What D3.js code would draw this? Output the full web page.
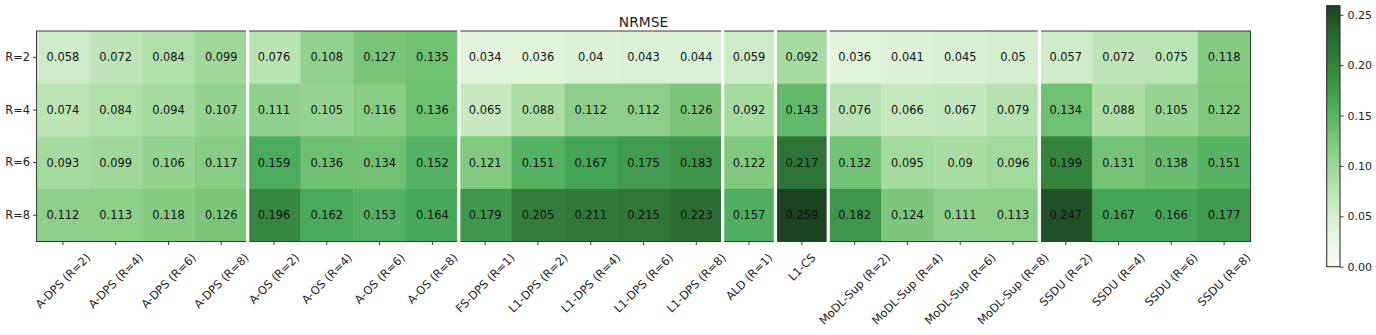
<!DOCTYPE html>
<html lang="en">
    <head>
        <meta charset="utf-8">
        <title>NRMSE heatmap</title>
        <script type="text/javascript" src="https://d3js.org/d3.v7.min.js"></script>
        <style type="text/css">
            body { margin: 0; background: #fff; }
            text { font-family: "DejaVu Sans", sans-serif; }
        </style>
    </head>
    <body>
        <script type="text/javascript">

            const methods = ["A-DPS (R=2)", "A-DPS (R=4)", "A-DPS (R=6)", "A-DPS (R=8)",
                             "A-OS (R=2)", "A-OS (R=4)", "A-OS (R=6)", "A-OS (R=8)",
                             "FS-DPS (R=1)", "L1-DPS (R=2)", "L1-DPS (R=4)", "L1-DPS (R=6)", "L1-DPS (R=8)",
                             "ALD (R=1)", "L1-CS",
                             "MoDL-Sup (R=2)", "MoDL-Sup (R=4)", "MoDL-Sup (R=6)", "MoDL-Sup (R=8)",
                             "SSDU (R=2)", "SSDU (R=4)", "SSDU (R=6)", "SSDU (R=8)"];
            const rates = ["R=2", "R=4", "R=6", "R=8"];
            const groupSizes = [4, 4, 5, 1, 1, 4, 4];

            const r2 = [0.058, 0.072, 0.084, 0.099, 0.076, 0.108, 0.127, 0.135, 0.034, 0.036, 0.04, 0.043, 0.044,
                        0.059, 0.092, 0.036, 0.041, 0.045, 0.05, 0.057, 0.072, 0.075, 0.118];
            const r4 = [0.074, 0.084, 0.094, 0.107, 0.111, 0.105, 0.116, 0.136, 0.065, 0.088, 0.112, 0.112, 0.126,
                        0.092, 0.143, 0.076, 0.066, 0.067, 0.079, 0.134, 0.088, 0.105, 0.122];
            const r6 = [0.093, 0.099, 0.106, 0.117, 0.159, 0.136, 0.134, 0.152, 0.121, 0.151, 0.167, 0.175, 0.183,
                        0.122, 0.217, 0.132, 0.095, 0.09, 0.096, 0.199, 0.131, 0.138, 0.151];
            const r8 = [0.112, 0.113, 0.118, 0.126, 0.196, 0.162, 0.153, 0.164, 0.179, 0.205, 0.211, 0.215, 0.223,
                        0.157, 0.259, 0.182, 0.124, 0.111, 0.113, 0.247, 0.167, 0.166, 0.177];
            const colorTicks = [0, 0.05, 0.10, 0.15, 0.20, 0.25];

            // greens colour ramp as it appears in the picture
            const greens = ["#f7fcf5", "#e5f5e0", "#c7e9c0", "#a1d99b", "#76c477", "#48aa5b", "#37883f", "#2a6a32", "#1c4320"];

            const width = 1376;
            const height = 335;
            const plotLeft = 36.5, plotRight = 1250.5, plotTop = 31, plotBottom = 241.5;
            const tickFont = "11.4px";

            const rows = [r2, r4, r6, r8];
            const cells = [];
            rows.forEach((vals, i) => vals.forEach((v, j) => cells.push({rate: rates[i], method: methods[j], value: v})));

            const xScale = d3.scaleBand().domain(methods).range([plotLeft, plotRight]);
            const yScale = d3.scaleBand().domain(rates).range([plotTop, plotBottom]);
            const vmax = d3.max(cells, d => d.value);
            const color = d3.scaleLinear()
                            .domain(greens.map((c, i) => vmax * i / (greens.length - 1)))
                            .range(greens)
                            .clamp(true);

            const svg = d3.select("body")
                          .append("svg")
                          .attr("width", width)
                          .attr("height", height);

            // cells
            svg.selectAll("rect.cell")
               .data(cells)
               .enter()
               .append("rect")
               .attr("class", "cell")
               .attr("x", d => xScale(d.method))
               .attr("y", d => yScale(d.rate))
               .attr("width", xScale.bandwidth() + 0.5)
               .attr("height", yScale.bandwidth() + 0.5)
               .attr("fill", d => color(d.value));

            svg.selectAll("text.val")
               .data(cells)
               .enter()
               .append("text")
               .attr("class", "val")
               .attr("x", d => xScale(d.method) + xScale.bandwidth() / 2)
               .attr("y", d => yScale(d.rate) + yScale.bandwidth() / 2)
               .attr("text-anchor", "middle")
               .attr("dominant-baseline", "central")
               .attr("font-size", "11.4px")
               .attr("fill", "#111")
               .text(d => d.value);

            // frame
            svg.append("rect")
               .attr("x", plotLeft).attr("y", plotTop)
               .attr("width", plotRight - plotLeft).attr("height", plotBottom - plotTop)
               .attr("fill", "none").attr("stroke", "#3a3a3a").attr("stroke-width", 1);

            // white separators between method groups
            const seps = d3.cumsum(groupSizes).slice(0, -1);
            svg.selectAll("line.sep")
               .data(seps)
               .enter()
               .append("line")
               .attr("x1", d => xScale(methods[d]))
               .attr("x2", d => xScale(methods[d]))
               .attr("y1", plotTop - 1)
               .attr("y2", plotBottom + 1)
               .attr("stroke", "#fff")
               .attr("stroke-width", 3.2);

            // axes
            const leftAxis = d3.axisLeft(yScale).tickSize(3.5).tickPadding(3);
            const gy = svg.append("g").attr("transform", "translate(" + plotLeft + ",0)").call(leftAxis);
            gy.select(".domain").remove();
            gy.selectAll("line").attr("stroke", "#333");
            gy.selectAll("text").attr("font-size", tickFont).attr("fill", "#222").attr("font-family", "DejaVu Sans");

            const bottomAxis = d3.axisBottom(xScale).tickSize(3.5).tickPadding(3);
            const gx = svg.append("g").attr("transform", "translate(0," + plotBottom + ")").call(bottomAxis);
            gx.select(".domain").remove();
            gx.selectAll("line").attr("stroke", "#333");
            gx.selectAll("text")
              .attr("font-size", tickFont)
              .attr("fill", "#222")
              .attr("font-family", "DejaVu Sans")
              .attr("dy", null)
              .attr("y", 0)
              .attr("text-anchor", "middle")
              .attr("dominant-baseline", "central")
              .attr("transform", function() {
                  const w = this.getComputedTextLength();
                  const cy = 10 + (w + 11.4) * Math.SQRT1_2 / 2;
                  return "translate(0," + cy + ") rotate(-45)";
              });

            // title
            svg.append("text")
               .attr("x", (plotLeft + plotRight) / 2)
               .attr("y", 27)
               .attr("text-anchor", "middle")
               .attr("font-size", "13.8px")
               .attr("fill", "#222")
               .text("NRMSE");

            // colorbar
            const cbX = 1326.7, cbW = 13.3, cbTop = 5.7, cbBottom = 266.7;
            const cScale = d3.scaleLinear().domain([0, vmax]).range([cbBottom, cbTop]);
            const grad = svg.append("defs").append("linearGradient")
                            .attr("id", "cbgrad")
                            .attr("x1", 0).attr("y1", 1).attr("x2", 0).attr("y2", 0);
            greens.forEach((c, i) => {
                grad.append("stop")
                    .attr("offset", i / (greens.length - 1))
                    .attr("stop-color", c);
            });
            svg.append("rect")
               .attr("x", cbX).attr("y", cbTop)
               .attr("width", cbW).attr("height", cbBottom - cbTop)
               .attr("fill", "url(#cbgrad)")
               .attr("stroke", "#222").attr("stroke-width", 1);

            const cbAxis = d3.axisRight(cScale).tickValues(colorTicks).tickFormat(d3.format(".2f")).tickSize(3.5).tickPadding(4);
            const gc = svg.append("g").attr("transform", "translate(" + (cbX + cbW) + ",0)").call(cbAxis);
            gc.select(".domain").remove();
            gc.selectAll("line").attr("stroke", "#333");
            gc.selectAll("text").attr("font-size", "11px").attr("fill", "#222").attr("font-family", "DejaVu Sans");

        </script>
    </body>
</html>
